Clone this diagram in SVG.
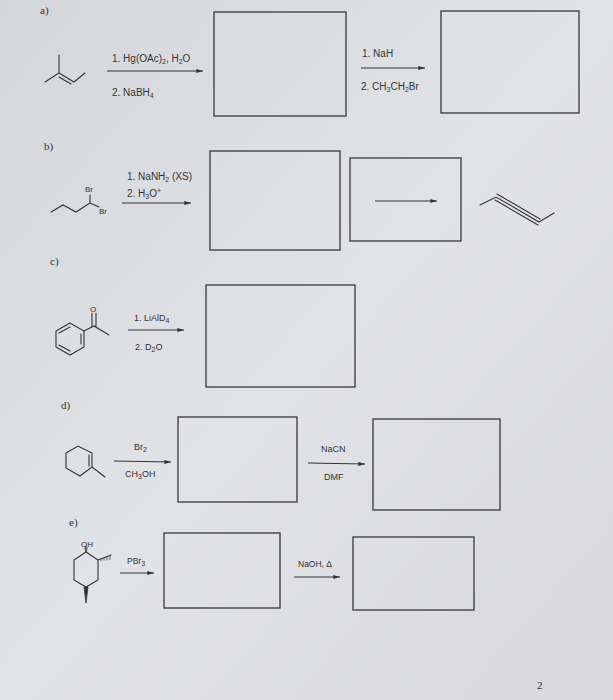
<svg xmlns="http://www.w3.org/2000/svg" width="613" height="700" viewBox="0 0 613 700">
<defs>
<marker id="ah" viewBox="0 0 10 6" refX="10" refY="3" markerWidth="7" markerHeight="4" orient="auto" markerUnits="userSpaceOnUse"><path d="M0,0 L10,3 L0,6 Z" fill="#333"/></marker>
<linearGradient id="bg" x1="0" y1="0" x2="1" y2="1"><stop offset="0" stop-color="#d4d6db"/><stop offset="0.5" stop-color="#e2e3e7"/><stop offset="1" stop-color="#d8d8dc"/></linearGradient>
</defs>
<style>
.box{fill:none;stroke:#444;stroke-width:1.4}
.b{fill:none;stroke:#333;stroke-width:1.1;stroke-linecap:round}
.ar{stroke:#333;stroke-width:1;marker-end:url(#ah)}
text{font-family:"Liberation Sans",Arial,sans-serif;font-size:10px;fill:#333}
.lab{font-family:"Liberation Serif",serif;font-size:11px}
.s{font-size:7px}
</style>
<rect width="613" height="700" fill="url(#bg)"/>
<g id="labels">
<text class="lab" x="40" y="14">a)</text>
<text class="lab" x="44" y="150">b)</text>
<text class="lab" x="50" y="265">c)</text>
<text class="lab" x="61" y="409">d)</text>
<text class="lab" x="69" y="526">e)</text>
<text class="lab" x="537" y="689">2</text>
</g>
<g id="mol-a">
<path class="b" d="M45,82 L59,73 L59,55 M59,73 L74,82 L85,73 M59,77 L71,84"/>
</g>
<g id="mol-b">
<path class="b" d="M51,212 L63,205 L76,212 L90,203 L90,195 M90,203 L99,207"/>
<text x="85" y="192" style="font-size:8px">Br</text>
<text x="99" y="214" style="font-size:8px">Br</text>
</g>
<g id="mol-b-product">
<path class="b" d="M480,205 L496,197 L539,222 L554,213 M497,194 L540,219 M495,200 L538,225"/>
</g>
<g id="mol-c">
<polygon class="b" points="70,323 84,331 84,347 70,355 56,347 56,331"/>
<path class="b" d="M59,333 L70,327 M81,334 L81,344 M59,345 L70,351 M84,331 L94,326 L109,335 M92,326 L92,313 M96,326 L96,313"/>
<text x="90" y="312" style="font-size:8px">O</text>
</g>
<g id="mol-d">
<polygon class="b" points="66,453 78,446 92,453 92,467 80,476 66,468"/>
<path class="b" d="M89,455 L89,466 M92,467 L105,477"/>
</g>
<g id="mol-e">
<polygon class="b" points="86,552 98,560 98,580 86,587 74,580 74,560"/>
<path class="b" d="M98,560 L111,555 M86,552 L86,546"/>
<path d="M84,548 h4 M84.5,550 h3 M85,552 h2 M86,603 L84,587 L88,587 Z" stroke="#333" stroke-width="0.8" fill="#333"/>
<path d="M101,559 v2 M104,557.5 v3 M107,556.5 v4 M110,555 v5" stroke="#333" stroke-width="0.7"/>
<text x="81" y="547" style="font-size:8px">OH</text>
</g>
<g id="boxes">
<rect id="box1" class="box" x="214" y="12" width="132" height="104"/>
<rect id="box2" class="box" x="441" y="11" width="138" height="102"/>
<rect id="box3" class="box" x="210" y="151" width="130" height="99"/>
<rect id="box4" class="box" x="350" y="158" width="111" height="83"/>
<rect id="box5" class="box" x="206" y="285" width="149" height="102"/>
<rect id="box6" class="box" x="178" y="417" width="119" height="85"/>
<rect id="box7" class="box" x="373" y="419" width="127" height="91"/>
<rect id="box8" class="box" x="164" y="533" width="116" height="75"/>
<rect id="box9" class="box" x="353" y="537" width="121" height="73"/>
</g>
<g id="connectors">
<line class="ar" x1="107" y1="71" x2="203" y2="71"/>
<line class="ar" x1="361" y1="68" x2="425" y2="68"/>
<line class="ar" x1="122" y1="203" x2="191" y2="203"/>
<line class="ar" x1="375" y1="201" x2="437" y2="201"/>
<line class="ar" x1="128" y1="330" x2="184" y2="330"/>
<line class="ar" x1="114" y1="461" x2="171" y2="462"/>
<line class="ar" x1="308" y1="463" x2="365" y2="464"/>
<line class="ar" x1="120" y1="573" x2="154" y2="573"/>
<line class="ar" x1="294" y1="577" x2="340" y2="577"/>
</g>
<g id="reagents">
<text x="112" y="62">1. Hg(OAc)<tspan class="s" dy="2">2</tspan><tspan dy="-2">, H</tspan><tspan class="s" dy="2">2</tspan><tspan dy="-2">O</tspan></text>
<text x="112" y="96">2. NaBH<tspan class="s" dy="2">4</tspan></text>
<text x="362" y="57">1. NaH</text>
<text x="361" y="90">2. CH<tspan class="s" dy="2">3</tspan><tspan dy="-2">CH</tspan><tspan class="s" dy="2">2</tspan><tspan dy="-2">Br</tspan></text>
<text x="127" y="180">1. NaNH<tspan class="s" dy="2">2</tspan><tspan dy="-2"> (XS)</tspan></text>
<text x="127" y="197">2. H<tspan class="s" dy="2">3</tspan><tspan dy="-2">O</tspan><tspan class="s" dy="-4">+</tspan></text>
<text x="134" y="321" style="font-size:9px">1. LiAlD<tspan class="s" dy="2">4</tspan></text>
<text x="135" y="350" style="font-size:9px">2. D<tspan class="s" dy="2">2</tspan><tspan dy="-2">O</tspan></text>
<text x="134" y="450" style="font-size:9px">Br<tspan class="s" dy="2">2</tspan></text>
<text x="125" y="477" style="font-size:9px">CH<tspan class="s" dy="2">3</tspan><tspan dy="-2">OH</tspan></text>
<text x="321" y="452" style="font-size:9px">NaCN</text>
<text x="324" y="480" style="font-size:9px">DMF</text>
<text x="127" y="564" style="font-size:8.5px">PBr<tspan class="s" dy="2">3</tspan></text>
<text x="298" y="567" style="font-size:8.5px">NaOH, Δ</text>
</g>
</svg>
